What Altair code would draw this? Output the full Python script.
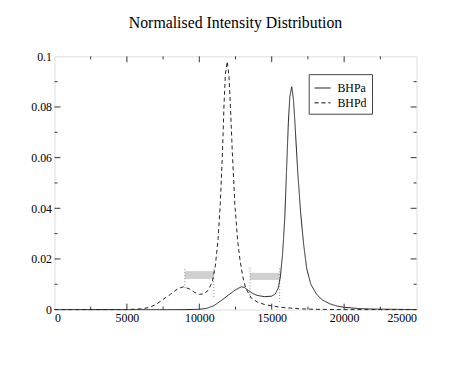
import altair as alt
import pandas as pd

# ---- data ----
bhpa_x = [0, 9000, 10000, 10500, 11000, 11500, 12000, 12500, 12900, 13100, 13400, 13700,
          14000, 14500, 15000, 15250, 15450, 15600, 15750, 15900, 16050, 16150, 16250,
          16380, 16500, 16600, 16800, 17000, 17200, 17420, 17700, 18100, 18500, 19000,
          19500, 20000, 21000, 22000, 25000]
bhpa_y = [0, 0, 0.0001, 0.0005, 0.0015, 0.0035, 0.0057, 0.0078, 0.009, 0.0088, 0.0075, 0.0063,
          0.0056, 0.0051, 0.0053, 0.0062, 0.0085, 0.013, 0.022, 0.036, 0.059, 0.074, 0.084,
          0.088, 0.083, 0.074, 0.054, 0.038, 0.026, 0.016, 0.010, 0.006, 0.0038, 0.0023,
          0.0014, 0.0009, 0.0004, 0.0002, 0]

bhpd_x = [0, 5000, 6000, 6500, 7000, 7500, 8000, 8500, 8900, 9300, 9700, 10000, 10300,
          10600, 10900, 11100, 11300, 11450, 11600, 11700, 11800, 11930, 12050, 12150,
          12280, 12450, 12650, 12800, 13000, 13200, 13600, 14000, 14500, 15000, 15500,
          16000, 17000, 18000, 20000, 25000]
bhpd_y = [0, 0, 0.0003, 0.0008, 0.002, 0.004, 0.006, 0.0082, 0.009, 0.0082, 0.0067, 0.006,
          0.0062, 0.0075, 0.011, 0.017, 0.028, 0.042, 0.062, 0.080, 0.093, 0.098, 0.092,
          0.080, 0.062, 0.042, 0.027, 0.020, 0.013, 0.0085, 0.0045, 0.003, 0.002, 0.0015,
          0.001, 0.0007, 0.0003, 0.0001, 0, 0]

band_x1 = [9000, 13500]
band_x2 = [11000, 15550]
band_y1 = [0.0121, 0.0117]
band_y2 = [0.0152, 0.0145]
guide_x = [9000, 11000, 13500, 15550]
guide_top = [0.016, 0.016, 0.0168, 0.0168]
guide_bot = [0.0085, 0.005, 0.0045, 0.003]

x_major = [5000, 10000, 15000, 20000]
x_minor = [2500, 7500, 12500, 17500, 22500]
y_major = [0.02, 0.04, 0.06, 0.08]
y_minor = [0.01, 0.03, 0.05, 0.07, 0.09]

W, H = 366, 256
FONT = "Liberation Serif"

lines = pd.concat([
    pd.DataFrame({"x": bhpa_x, "y": bhpa_y, "series": "BHPa"}),
    pd.DataFrame({"x": bhpd_x, "y": bhpd_y, "series": "BHPd"}),
])
bands = pd.DataFrame({"x1": band_x1, "x2": band_x2, "y1": band_y1, "y2": band_y2})
guides = pd.DataFrame({"x": guide_x, "y1": guide_bot, "y2": guide_top})

xscale = alt.Scale(domain=[0, 25000], nice=False)
yscale = alt.Scale(domain=[0, 0.1], nice=False)

xaxis = alt.Axis(title=None, values=[0, 5000, 10000, 15000, 20000, 25000], format="d",
                 tickSize=0, domain=False, grid=False, labelPadding=3,
                 labelFont=FONT, labelFontSize=12, labelColor="black")
yaxis = alt.Axis(title=None, values=[0, 0.02, 0.04, 0.06, 0.08, 0.1], format=".2~f",
                 tickSize=0, domain=False, grid=False, labelPadding=3,
                 labelFont=FONT, labelFontSize=12, labelColor="black")

band_layer = alt.Chart(bands).mark_rect(fill="#cdcdcd", opacity=0.95).encode(
    x=alt.X("x1:Q", scale=xscale, axis=xaxis), x2="x2:Q",
    y=alt.Y("y1:Q", scale=yscale, axis=yaxis), y2="y2:Q")

guide_layer = alt.Chart(guides).mark_rule(color="#888888", strokeDash=[1, 2], strokeWidth=1).encode(
    x=alt.X("x:Q", scale=xscale), y=alt.Y("y1:Q", scale=yscale), y2="y2:Q")

line_layer = alt.Chart(lines).mark_line(color="#222222", strokeWidth=1).encode(
    x=alt.X("x:Q", scale=xscale),
    y=alt.Y("y:Q", scale=yscale),
    strokeDash=alt.StrokeDash("series:N",
        scale=alt.Scale(domain=["BHPa", "BHPd"], range=[[1, 0], [4, 3]]),
        legend=alt.Legend(title=None, orient="none", legendX=257, legendY=18,
                          strokeColor="#444444", fillColor="white", padding=5,
                          symbolType="stroke", symbolSize=260, symbolStrokeWidth=1,
                          symbolStrokeColor="black", labelFont=FONT, labelFontSize=12,
                          labelColor="black", rowPadding=0, labelOffset=6)),
    order="x:Q")

def xticks(vals, length, top):
    d = pd.DataFrame({"t": vals})
    if top:
        return alt.Chart(d).mark_rule(color="#333333").encode(
            x=alt.X("t:Q", scale=xscale), y=alt.value(0), y2=alt.value(length))
    return alt.Chart(d).mark_rule(color="#333333").encode(
        x=alt.X("t:Q", scale=xscale), y=alt.value(H), y2=alt.value(H - length))

def yticks(vals, length, right):
    d = pd.DataFrame({"t": vals})
    if right:
        return alt.Chart(d).mark_rule(color="#333333").encode(
            y=alt.Y("t:Q", scale=yscale), x=alt.value(W), x2=alt.value(W - length))
    return alt.Chart(d).mark_rule(color="#333333").encode(
        y=alt.Y("t:Q", scale=yscale), x=alt.value(0), x2=alt.value(length))

ticks = [xticks(x_major, 6, False), xticks(x_minor, 3, False),
         xticks(x_major, 6, True), xticks(x_minor, 3, True),
         yticks(y_major, 6, False), yticks(y_minor, 3, False),
         yticks(y_major, 6, True), yticks(y_minor, 3, True)]

chart = alt.layer(band_layer, guide_layer, line_layer, *ticks).properties(
    width=W, height=H,
    title=alt.TitleParams("Normalised Intensity Distribution", font=FONT, fontSize=16,
                          fontWeight="normal", color="black", offset=20, anchor="middle"),
    autosize=alt.AutoSizeParams(type="none"),
    padding={"left": 47, "top": 47, "right": 50, "bottom": 40},
).configure_view(stroke="#333333", strokeWidth=1.3).configure(background="white")

chart.save("out.html", embed_options={"renderer": "svg", "actions": False})
